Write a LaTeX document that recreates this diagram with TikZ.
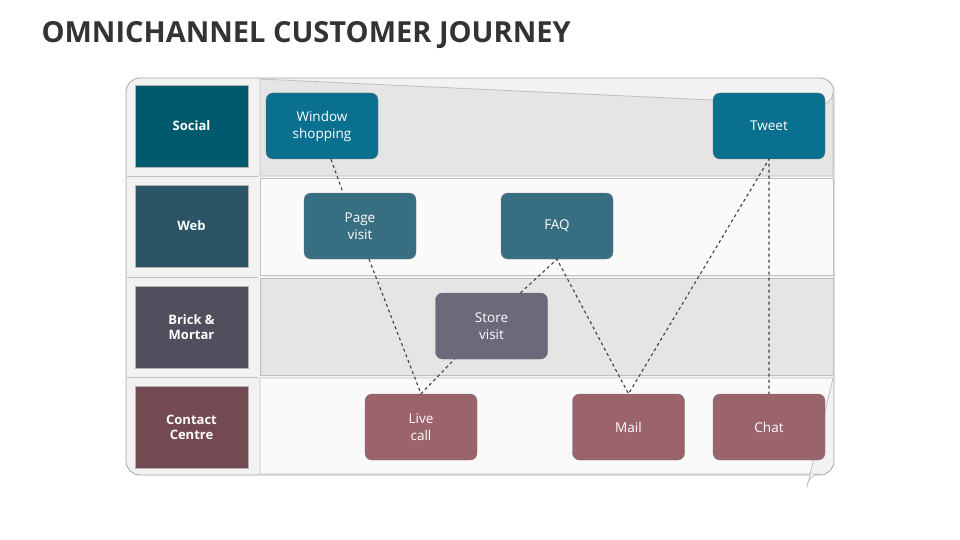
\documentclass[tikz,border=0pt]{standalone}
\usepackage{fontspec}
\setmainfont{Open Sans}
\usetikzlibrary{calc}
\definecolor{cSoc}{HTML}{005A6E}
\definecolor{cWeb}{HTML}{2B5566}
\definecolor{cBrk}{HTML}{4F4F5E}
\definecolor{cCon}{HTML}{744A52}
\definecolor{nSoc}{HTML}{0A7090}
\definecolor{nWeb}{HTML}{376E82}
\definecolor{nBrk}{HTML}{6A6A7A}
\definecolor{nCon}{HTML}{9B636B}
\begin{document}
\begin{tikzpicture}[x=1pt,y=-1pt,
  lab/.style={minimum width=113pt,minimum height=82pt,text=white,font=\bfseries\fontsize{13}{15}\selectfont,align=center,draw=black!30},
  box/.style={rounded corners=7pt,minimum width=112pt,minimum height=66pt,text=white,font=\fontsize{13.5}{17}\selectfont,align=center,draw=black!55},
  lane/.style={draw=black!25,line width=0.8pt},
  dl/.style={dashed,line width=1.1pt,black!75}]
\useasboundingbox (0,0) rectangle (960,540);
\node[anchor=west,font=\bfseries\fontsize{29}{32}\selectfont,text=black!80] (title) at (38,35) {OMNICHANNEL CUSTOMER JOURNEY};
\draw[draw=black!35,fill=black!5,rounded corners=14pt,line width=0.8pt] (126,78) rectangle (834,475);
\draw[lane,fill=black!10] (260,79) -- (260,176) -- (833,176) -- (833,92) arc[start angle=0,end angle=90,radius=13] -- cycle;
\draw[lane,fill=black!2] (260,178) rectangle (833,275);
\draw[lane,fill=black!10] (260,278) rectangle (833,375);
\draw[lane,fill=black!2] (260,378) -- (260,474) -- (820,474) arc[start angle=90,end angle=0,radius=-13] -- (833,378) -- cycle;
\draw[black!25,line width=0.8pt] (127,176)--(258,176) (127,277)--(258,277) (127,377)--(258,377);
\node[lab,fill=cSoc] (ls) at (191.5,126) {Social};
\node[lab,fill=cWeb] (lw) at (191.5,226) {Web};
\node[lab,fill=cBrk] (lb) at (191.5,327) {Brick \&\\Mortar};
\node[lab,fill=cCon] (lc) at (191.5,427) {Contact\\Centre};
\node[box,fill=nSoc] (ws) at (322,126) {Window\\shopping};
\node[box,fill=nSoc] (tw) at (769,126) {Tweet};
\node[box,fill=nWeb] (pv) at (360,226) {Page\\visit};
\node[box,fill=nWeb] (faq) at (557,226) {FAQ};
\node[box,fill=nBrk] (sv) at (491.5,326) {Store\\visit};
\node[box,fill=nCon] (lv) at (421,427) {Live\\call};
\node[box,fill=nCon] (ml) at (628.5,427) {Mail};
\node[box,fill=nCon] (ch) at (769,427) {Chat};
\coordinate (a1) at ($(ws.south)+(9,0)$);
\coordinate (a2) at ($(pv.north)+(-17,0)$);
\coordinate (b1) at ($(pv.south)+(9,0)$);
\coordinate (c1) at ($(sv.south)+(-37,0)$);
\coordinate (d1) at ($(sv.north)+(29,0)$);
\draw[dl] (a1) -- (a2);
\draw[dl] (b1) -- (lv.north) -- (c1);
\draw[dl] (d1) -- (faq.south) -- (ml.north) -- (tw.south) -- (ch.north);
\end{tikzpicture}
\end{document}
